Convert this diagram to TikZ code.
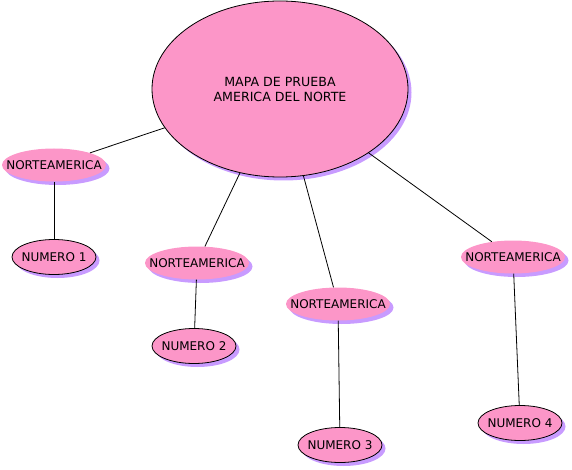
\documentclass[tikz,border=0pt]{standalone}
\usepackage{xcolor}
\usepackage{tikz}
\usepackage{fontspec}
\setmainfont{DejaVu Sans}
\definecolor{bubblepink}{RGB}{252, 150, 200}
\definecolor{shadowpurple}{RGB}{200, 155, 255}
\usetikzlibrary{shapes, positioning, shadows, shapes.geometric}

\begin{document}
\begin{tikzpicture}[x=1pt, y=-1pt,
    bubble/.style={ellipse, fill=bubblepink, inner xsep=-15pt, inner ysep=0pt, align=center, font=\fontsize{12}{15}\selectfont,
        drop shadow={shadow xshift=3.5pt, shadow yshift=-3.5pt, fill=shadowpurple, opacity=1}},
    region/.style={bubble, minimum width=104pt, minimum height=33pt},
    numero/.style={bubble, draw=black, line width=0.8pt, minimum width=84pt, minimum height=35pt},
    link/.style={draw, line width=0.8pt}
]
    \useasboundingbox (0, 0) rectangle (572, 470);

    % Main topic (top)
    \node[bubble, draw=black, line width=0.8pt, inner xsep=0pt, minimum width=256pt, minimum height=176pt, font=\fontsize{12.6}{15}\selectfont] (main) at (280, 89) {MAPA DE PRUEBA\\AMERICA DEL NORTE};

    % Regions
    \node[region] (reg1) at (54, 165) {NORTEAMERICA};
    \node[region] (reg2) at (197, 263) {NORTEAMERICA};
    \node[region] (reg3) at (338, 304) {NORTEAMERICA};
    \node[region] (reg4) at (513, 257) {NORTEAMERICA};

    % Numbers (bottom)
    \node[numero] (num1) at (54, 257) {NUMERO 1};
    \node[numero] (num2) at (194, 346) {NUMERO 2};
    \node[numero] (num3) at (340, 445) {NUMERO 3};
    \node[numero] (num4) at (520, 423) {NUMERO 4};

    % Links
    \draw[link] (main) -- (reg1);
    \draw[link] (main) -- (reg2);
    \draw[link] (main) -- (reg3);
    \draw[link] (main) -- (reg4);
    \draw[link] (reg1) -- (num1);
    \draw[link] (reg2) -- (num2);
    \draw[link] (reg3) -- (num3);
    \draw[link] (reg4) -- (num4);
\end{tikzpicture}
\end{document}
